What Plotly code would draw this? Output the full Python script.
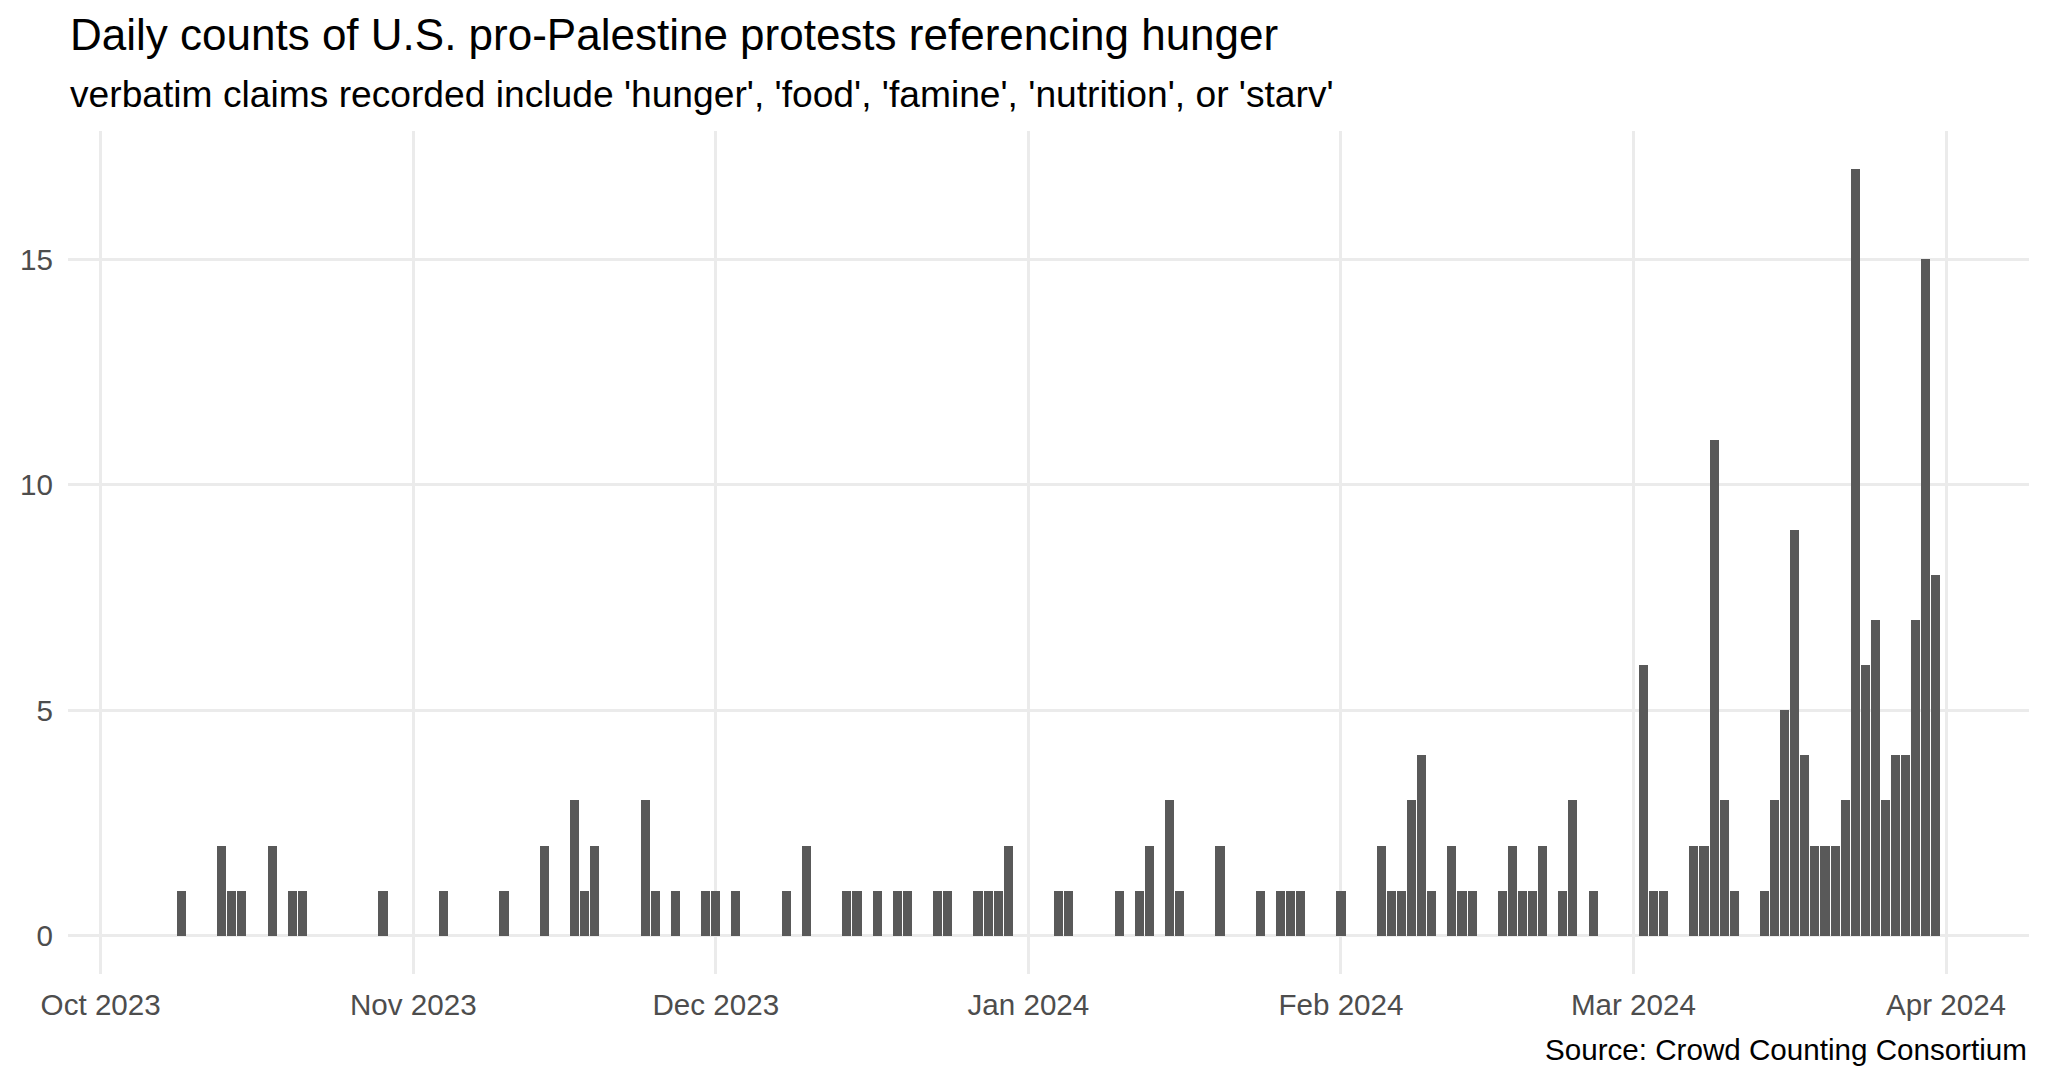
import plotly.graph_objects as go

dates = [
    "2023-10-09", "2023-10-13", "2023-10-14", "2023-10-15", "2023-10-18", "2023-10-20", "2023-10-21", "2023-10-29",
    "2023-11-04", "2023-11-10", "2023-11-14", "2023-11-17", "2023-11-18", "2023-11-19", "2023-11-24", "2023-11-25",
    "2023-11-27", "2023-11-30",
    "2023-12-01", "2023-12-03", "2023-12-08", "2023-12-10", "2023-12-14", "2023-12-15", "2023-12-17", "2023-12-19",
    "2023-12-20", "2023-12-23", "2023-12-24", "2023-12-27", "2023-12-28", "2023-12-29", "2023-12-30",
    "2024-01-04", "2024-01-05", "2024-01-10", "2024-01-12", "2024-01-13", "2024-01-15", "2024-01-16", "2024-01-20",
    "2024-01-24", "2024-01-26", "2024-01-27", "2024-01-28",
    "2024-02-01", "2024-02-05", "2024-02-06", "2024-02-07", "2024-02-08", "2024-02-09", "2024-02-10", "2024-02-12",
    "2024-02-13", "2024-02-14", "2024-02-17", "2024-02-18", "2024-02-19", "2024-02-20", "2024-02-21", "2024-02-23",
    "2024-02-24", "2024-02-26",
    "2024-03-02", "2024-03-03", "2024-03-04", "2024-03-07", "2024-03-08", "2024-03-09", "2024-03-10", "2024-03-11",
    "2024-03-14", "2024-03-15", "2024-03-16", "2024-03-17", "2024-03-18", "2024-03-19", "2024-03-20", "2024-03-21",
    "2024-03-22", "2024-03-23", "2024-03-24", "2024-03-25", "2024-03-26", "2024-03-27", "2024-03-28", "2024-03-29",
    "2024-03-30", "2024-03-31",
]
counts = [
    1, 2, 1, 1, 2, 1, 1, 1,
    1, 1, 2, 3, 1, 2, 3, 1,
    1, 1,
    1, 1, 1, 2, 1, 1, 1, 1,
    1, 1, 1, 1, 1, 1, 2,
    1, 1, 1, 1, 2, 3, 1, 2,
    1, 1, 1, 1,
    1, 2, 1, 1, 3, 4, 1, 2,
    1, 1, 1, 2, 1, 1, 2, 1,
    3, 1,
    6, 1, 1, 2, 2, 11, 3, 1,
    1, 3, 5, 9, 4, 2, 2, 2,
    3, 17, 6, 7, 3, 4, 4, 7,
    15, 8,
]
y_ticks = [0, 5, 10, 15]

title_text = "Daily counts of U.S. pro-Palestine protests referencing hunger"
subtitle_text = "verbatim claims recorded include 'hunger', 'food', 'famine', 'nutrition', or 'starv'"
caption_text = "Source: Crowd Counting Consortium"

DAY_MS = 86400000
FONT = "Liberation Sans, Arial, sans-serif"

# page has an 8px body margin; size the figure to fit inside the window
W, H = 2040, 1076
L, T = 60, 123
PW, PH = 1961, 843
R = W - L - PW
B = H - T - PH
PLOT_BOTTOM_PAGE = 8 + T + PH

def py(Y):
    return (PLOT_BOTTOM_PAGE - Y) / PH

fig = go.Figure(
    go.Bar(
        x=dates,
        y=counts,
        width=0.9 * DAY_MS,
        marker=dict(color="#595959", line=dict(width=0)),
        hoverinfo="x+y",
    )
)

fig.update_layout(
    width=W,
    height=H,
    margin=dict(l=L, r=R, t=T, b=B, autoexpand=False),
    paper_bgcolor="white",
    plot_bgcolor="white",
    showlegend=False,
    font=dict(family=FONT, color="#4D4D4D", size=29.6),
    bargap=0,
    annotations=[
        dict(text=title_text, xref="paper", yref="paper", x=0, y=py(34),
             xanchor="left", yanchor="middle", showarrow=False,
             font=dict(size=44, color="black", family=FONT)),
        dict(text=subtitle_text, xref="paper", yref="paper", x=0, y=py(94),
             xanchor="left", yanchor="middle", showarrow=False,
             font=dict(size=37.2, color="black", family=FONT)),
        dict(text=caption_text, xref="paper", yref="paper", x=1, y=py(1049),
             xanchor="right", yanchor="middle", showarrow=False,
             font=dict(size=29.6, color="black", family=FONT)),
    ],
)

fig.update_xaxes(
    type="date",
    range=["2023-09-27 18:14", "2024-04-09 05:31"],
    tick0="2023-10-01",
    dtick="M1",
    tickformat="%b %Y",
    showgrid=True,
    gridcolor="#EBEBEB",
    gridwidth=2.8,
    zeroline=False,
    showline=False,
    ticks="",
    ticklabelstandoff=10,
    tickfont=dict(size=29.6, color="#4D4D4D", family=FONT),
)
fig.update_yaxes(
    range=[-0.85, 17.85],
    tickvals=y_ticks,
    showgrid=True,
    gridcolor="#EBEBEB",
    gridwidth=2.8,
    zeroline=False,
    showline=False,
    ticks="",
    ticklabelstandoff=14,
    tickfont=dict(size=29.6, color="#4D4D4D", family=FONT),
)

fig.write_html("out.html")
